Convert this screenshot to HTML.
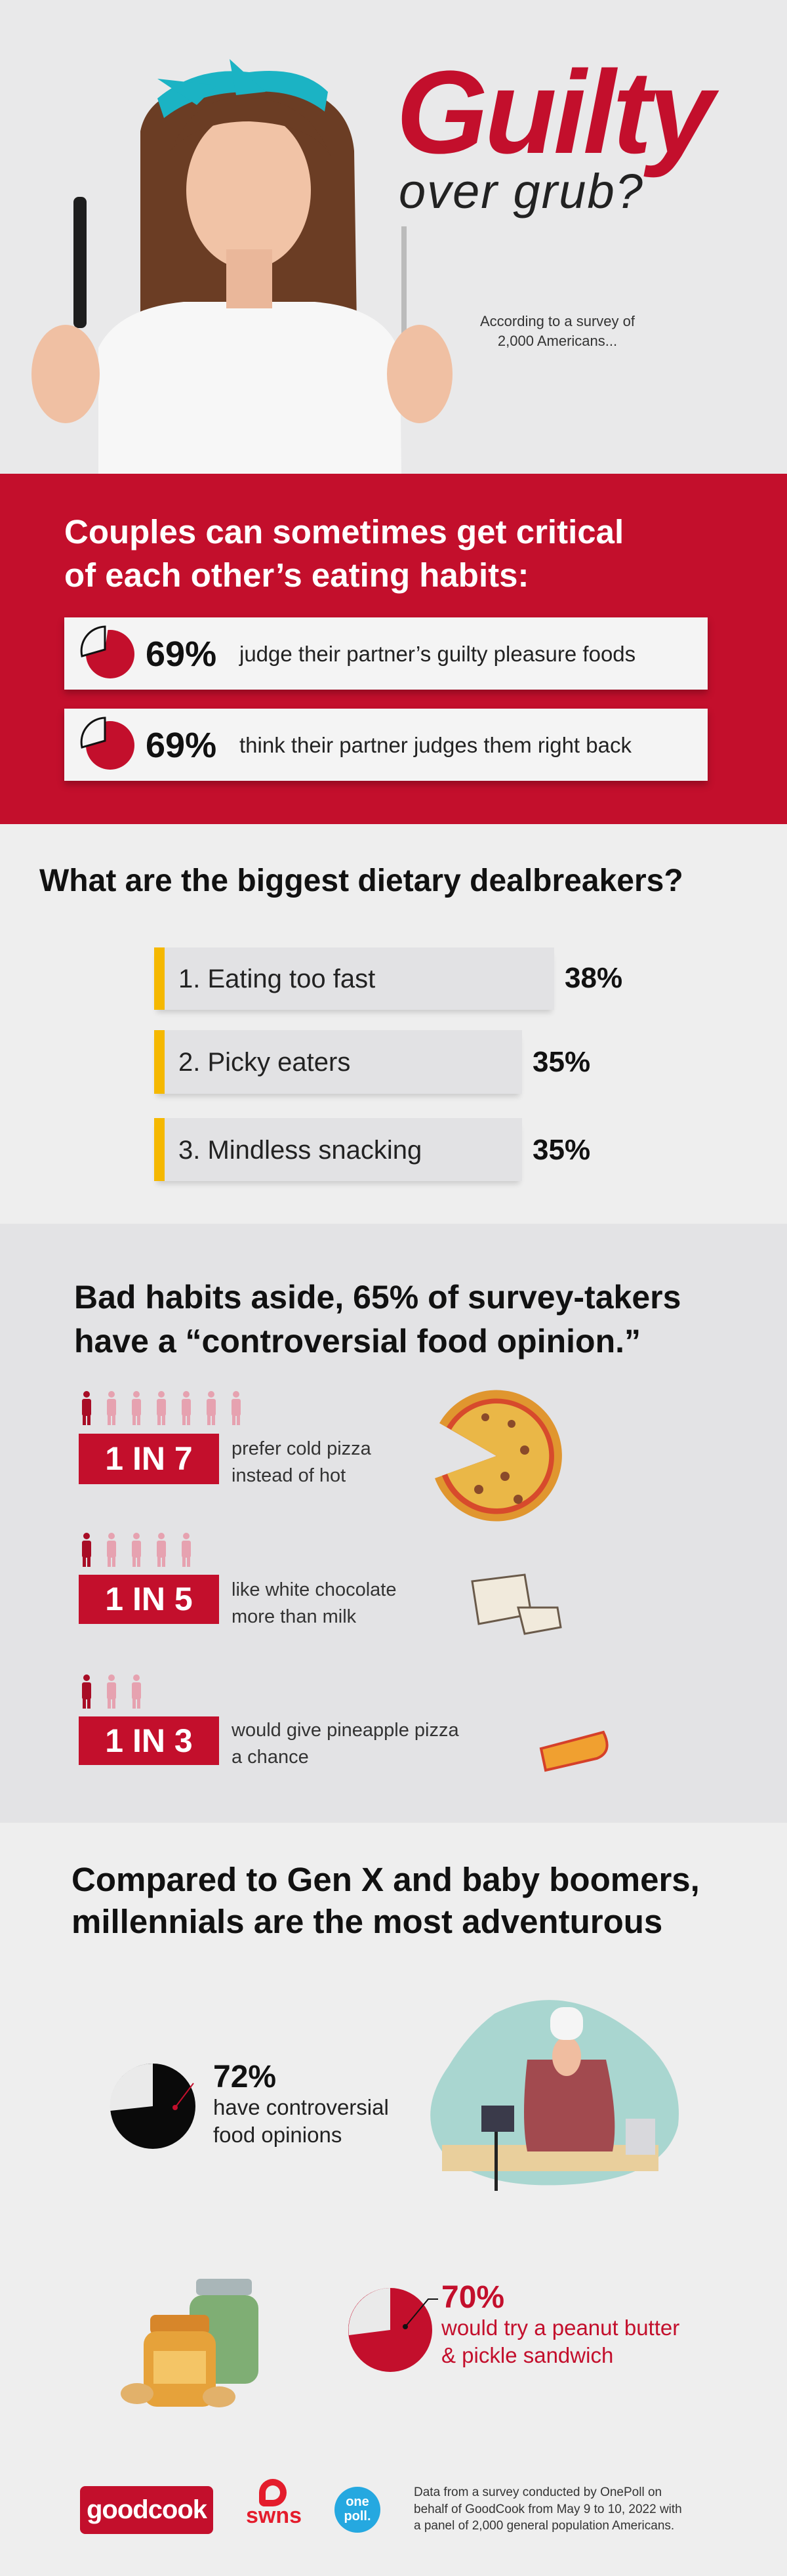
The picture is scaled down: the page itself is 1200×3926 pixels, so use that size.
<!DOCTYPE html>
<html><head><meta charset="utf-8"><style>
*{margin:0;padding:0;box-sizing:border-box}
body{width:1200px;height:3926px;position:relative;background:#eeeeee;font-family:"Liberation Sans",sans-serif;overflow:hidden}
.a{position:absolute;white-space:nowrap}
.red{background:#c30f2c}
.h{font-weight:bold;color:#111}
</style></head><body>
<!-- hero -->
<div class="a" style="left:0;top:0;width:1200px;height:722px;background:#e9e9ea"></div>
<svg class="a" style="left:0;top:0" width="720" height="722">
 <path d="M214 200 Q230 120 380 125 Q530 125 540 230 L545 560 Q545 650 520 680 L250 680 Q200 640 214 560 Z" fill="#6b3d24"/>
 <path d="M150 530 Q180 470 280 460 L480 460 Q590 470 610 540 L612 722 L150 722 Z" fill="#f7f7f7"/>
 <ellipse cx="379" cy="290" rx="95" ry="120" fill="#f1c3a6"/>
 <rect x="345" y="380" width="70" height="90" fill="#eab79a"/>
 <path d="M260 230 Q300 140 380 150 Q470 150 505 240 Q480 190 380 185 Q300 185 260 230Z" fill="#6b3d24"/>
 <path d="M240 150 Q300 100 380 110 Q460 100 500 140 L495 170 Q450 135 380 140 Q300 140 250 180 Z" fill="#1bb3c4"/>
 <path d="M240 120 L330 130 L300 160 Z M350 90 L405 140 L360 145 Z" fill="#1bb3c4"/>
 <rect x="112" y="300" width="20" height="200" rx="8" fill="#1e1e1e"/>
 <rect x="612" y="345" width="8" height="180" fill="#bbb"/>
 <ellipse cx="100" cy="570" rx="52" ry="75" fill="#f0c0a3"/>
 <ellipse cx="640" cy="570" rx="50" ry="75" fill="#f0c0a3"/>
</svg>
<div class="a" style="left:604px;top:82px;font-size:180px;font-weight:bold;font-style:italic;color:#c30f2c;letter-spacing:-5px;line-height:1">Guilty</div>
<div class="a" style="left:608px;top:255px;font-size:74px;font-style:italic;color:#222;line-height:1;letter-spacing:2px">over grub?</div>
<div class="a" style="left:700px;top:475px;width:300px;text-align:center;font-size:22px;color:#333;line-height:30px;white-space:normal">According to a survey of<br>2,000 Americans...</div>
<!-- red section -->
<div class="a red" style="left:0;top:722px;width:1200px;height:534px"></div>
<div class="a" style="left:98px;top:778px;font-size:51px;font-weight:bold;color:#fff;line-height:66px">Couples can sometimes get critical<br>of each other’s eating habits:</div>
<div class="a" style="left:98px;top:941px;width:981px;height:110px;background:#f4f4f4;box-shadow:0 6px 10px rgba(0,0,0,.25)"></div>
<div class="a" style="left:98px;top:1080px;width:981px;height:110px;background:#f4f4f4;box-shadow:0 6px 10px rgba(0,0,0,.25)"></div>
<svg class="a" style="left:120px;top:950px" width="100" height="250">
 <circle cx="48" cy="47" r="37" fill="#c30f2c"/><path d="M40 40 L28 8 A37 37 0 0 1 45 6 Z" fill="#fff"/>
 <path d="M40 40 L40 5 A37 37 0 0 0 5 50 Z" fill="#f4f4f4" stroke="#111" stroke-width="3"/>
 <circle cx="48" cy="186" r="37" fill="#c30f2c"/>
 <path d="M40 179 L40 144 A37 37 0 0 0 5 189 Z" fill="#f4f4f4" stroke="#111" stroke-width="3"/>
</svg>
<div class="a h" style="left:222px;top:966px;font-size:54px">69%</div>
<div class="a" style="left:365px;top:978px;font-size:33px;color:#222">judge their partner’s guilty pleasure foods</div>
<div class="a h" style="left:222px;top:1105px;font-size:54px">69%</div>
<div class="a" style="left:365px;top:1117px;font-size:33px;color:#222">think their partner judges them right back</div>
<!-- dealbreakers -->
<div class="a h" style="left:60px;top:1315px;font-size:48px">What are the biggest dietary dealbreakers?</div>
<div class="a" style="left:235px;top:1444px;width:610px;height:95px;background:#e2e2e4;border-left:16px solid #f5b800;box-shadow:0 8px 8px -4px rgba(0,0,0,.15)"></div>
<div class="a" style="left:235px;top:1570px;width:561px;height:97px;background:#e2e2e4;border-left:16px solid #f5b800;box-shadow:0 8px 8px -4px rgba(0,0,0,.15)"></div>
<div class="a" style="left:235px;top:1704px;width:561px;height:96px;background:#e2e2e4;border-left:16px solid #f5b800;box-shadow:0 8px 8px -4px rgba(0,0,0,.15)"></div>
<div class="a" style="left:272px;top:1470px;font-size:40px;color:#222">1. Eating too fast</div>
<div class="a" style="left:272px;top:1597px;font-size:40px;color:#222">2. Picky eaters</div>
<div class="a" style="left:272px;top:1731px;font-size:40px;color:#222">3. Mindless snacking</div>
<div class="a h" style="left:861px;top:1466px;font-size:44px">38%</div>
<div class="a h" style="left:812px;top:1594px;font-size:44px">35%</div>
<div class="a h" style="left:812px;top:1728px;font-size:44px">35%</div>
<!-- gray section -->
<div class="a" style="left:0;top:1865px;width:1200px;height:913px;background:#e3e3e5"></div>
<div class="a h" style="left:113px;top:1944px;font-size:50px;line-height:67px">Bad habits aside, 65% of survey-takers<br>have a “controversial food opinion.”</div>
<svg class="a" style="left:118px;top:2120px" width="280" height="500">
 <defs><g id="p"><circle cx="0" cy="5" r="5"/><rect x="-7" y="12" width="14" height="26" rx="3"/><rect x="-6" y="30" width="5" height="22"/><rect x="1" y="30" width="5" height="22"/></g></defs>
 <g fill="#a80d26"><use href="#p" x="14" y="0"/><use href="#p" x="14" y="216"/><use href="#p" x="14" y="432"/></g>
 <g fill="#e6a2b0"><use href="#p" x="52" y="0"/><use href="#p" x="90" y="0"/><use href="#p" x="128" y="0"/><use href="#p" x="166" y="0"/><use href="#p" x="204" y="0"/><use href="#p" x="242" y="0"/>
 <use href="#p" x="52" y="216"/><use href="#p" x="90" y="216"/><use href="#p" x="128" y="216"/><use href="#p" x="166" y="216"/>
 <use href="#p" x="52" y="432"/><use href="#p" x="90" y="432"/></g>
</svg>
<div class="a red" style="left:120px;top:2185px;width:214px;height:77px;color:#fff;font-weight:bold;font-size:50px;text-align:center;line-height:77px">1 IN 7</div>
<div class="a red" style="left:120px;top:2400px;width:214px;height:75px;color:#fff;font-weight:bold;font-size:50px;text-align:center;line-height:75px">1 IN 5</div>
<div class="a red" style="left:120px;top:2616px;width:214px;height:74px;color:#fff;font-weight:bold;font-size:50px;text-align:center;line-height:74px">1 IN 3</div>
<div class="a" style="left:353px;top:2188px;font-size:29px;color:#333;line-height:41px">prefer cold pizza<br>instead of hot</div>
<div class="a" style="left:353px;top:2403px;font-size:29px;color:#333;line-height:41px">like white chocolate<br>more than milk</div>
<div class="a" style="left:353px;top:2617px;font-size:29px;color:#333;line-height:41px">would give pineapple pizza<br>a chance</div>
<svg class="a" style="left:650px;top:2110px" width="300" height="620">
 <path d="M107 109 L20 59 A100 100 0 1 1 13 143 Z" fill="#e0962f"/>
 <path d="M107 109 L31 65 A88 88 0 1 1 24 139 Z" fill="#d74a2c"/>
 <path d="M107 109 L38 69 A80 80 0 1 1 32 136 Z" fill="#eab747"/>
 <g fill="#8a4a2a"><circle cx="120" cy="140" r="7"/><circle cx="80" cy="160" r="7"/><circle cx="150" cy="100" r="7"/><circle cx="140" cy="175" r="7"/><circle cx="90" cy="50" r="6"/><circle cx="130" cy="60" r="6"/></g>
 <path d="M70 300 L150 290 L160 350 L80 365 Z" fill="#f1eadc" stroke="#6a5a4a" stroke-width="3"/>
 <path d="M140 340 L200 340 L205 370 L150 380 Z" fill="#f1eadc" stroke="#6a5a4a" stroke-width="3"/>
 <path d="M175 555 L270 530 Q285 560 260 570 L182 588 Z" fill="#f0a030" stroke="#d5402a" stroke-width="4"/>
</svg>
<!-- millennials -->
<div class="a h" style="left:109px;top:2833px;font-size:51px;line-height:64px;font-weight:bold">Compared to Gen X and baby boomers,<br>millennials are the most adventurous</div>
<svg class="a" style="left:160px;top:3140px" width="140" height="140">
 <circle cx="73" cy="70" r="65" fill="#0a0a0a"/>
 <path d="M73 70 L73 5 A65 65 0 0 0 8 77 Z" fill="#eaeaea"/>
 <circle cx="107" cy="72" r="4" fill="#c30f2c"/>
 <path d="M107 72 L135 35" stroke="#c30f2c" stroke-width="2"/>
</svg>
<div class="a h" style="left:325px;top:3138px;font-size:48px">72%</div>
<div class="a" style="left:325px;top:3191px;font-size:33px;color:#222;line-height:42px">have controversial<br>food opinions</div>
<svg class="a" style="left:654px;top:3029px" width="390" height="320">
 <path d="M100 40 Q200 -10 300 60 Q390 120 380 210 Q360 290 220 300 Q80 310 20 250 Q-20 190 30 120 Q60 70 100 40Z" fill="#a9d6d0"/>
 <rect x="20" y="240" width="330" height="40" fill="#e9cf9c"/>
 <path d="M150 110 Q140 200 150 250 L280 250 Q290 200 270 110 Z" fill="#a24a4f"/>
 <ellipse cx="210" cy="105" rx="22" ry="30" fill="#f0bda0"/>
 <rect x="185" y="30" width="50" height="50" rx="20" fill="#f5f5f5"/>
 <rect x="80" y="180" width="50" height="40" fill="#3a3a4a"/><rect x="100" y="220" width="5" height="90" fill="#222"/>
 <rect x="300" y="200" width="45" height="55" fill="#d8d8dc"/>
</svg>
<svg class="a" style="left:184px;top:3463px" width="280" height="215">
 <rect x="115" y="10" width="85" height="25" rx="6" fill="#a9b6b8"/>
 <rect x="105" y="35" width="105" height="135" rx="20" fill="#7fae74"/>
 <rect x="45" y="65" width="90" height="30" rx="8" fill="#d7862a"/>
 <rect x="35" y="90" width="110" height="115" rx="20" fill="#e6a23a"/>
 <rect x="50" y="120" width="80" height="50" fill="#f4c566"/>
 <ellipse cx="25" cy="185" rx="25" ry="16" fill="#e2b16a"/><ellipse cx="150" cy="190" rx="25" ry="16" fill="#e2b16a"/>
</svg>
<svg class="a" style="left:528px;top:3484px" width="140" height="140">
 <circle cx="67" cy="67" r="64" fill="#c30f2c"/>
 <path d="M67 67 L67 3 A64 64 0 0 0 4 75 Z" fill="#eaeaea"/>
 <circle cx="90" cy="62" r="4" fill="#111"/>
 <path d="M90 62 L125 20 L145 20" stroke="#111" stroke-width="2" fill="none"/>
</svg>
<div class="a" style="left:673px;top:3474px;font-size:48px;font-weight:bold;color:#c30f2c">70%</div>
<div class="a" style="left:673px;top:3527px;font-size:33px;color:#c30f2c;line-height:42px">would try a peanut butter<br>&amp; pickle sandwich</div>
<!-- footer -->
<div class="a red" style="left:122px;top:3789px;width:203px;height:73px;border-radius:8px;color:#fff;font-weight:bold;font-size:40px;text-align:center;line-height:73px;letter-spacing:-1px">goodcook</div>
<div class="a" style="left:395px;top:3778px;width:42px;height:42px;border:10px solid #e41c2c;border-radius:50% 50% 50% 8px"></div>
<div class="a" style="left:375px;top:3815px;font-size:34px;font-weight:bold;color:#e41c2c">swns</div>
<div class="a" style="left:510px;top:3790px;width:70px;height:70px;border-radius:50%;background:#25a8e0;color:#fff;font-weight:bold;font-size:20px;text-align:center;line-height:22px;padding-top:12px">one<br>poll.</div>
<div class="a" style="left:631px;top:3786px;font-size:19px;color:#333;line-height:25.5px">Data from a survey conducted by OnePoll on<br>behalf of GoodCook from May 9 to 10, 2022 with<br>a panel of 2,000 general population Americans.</div>
</body></html>
